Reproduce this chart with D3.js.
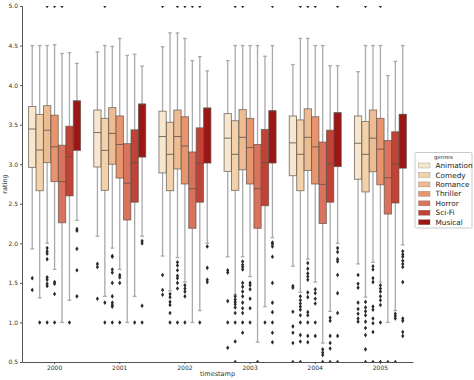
<!DOCTYPE html>
<html>
<head>
<meta charset="utf-8">
<script src="https://cdn.jsdelivr.net/npm/d3@7"></script>
<style>
  html, body { margin: 0; padding: 0; background: #fff; }
  svg { display: block; font-family: "DejaVu Sans", sans-serif; }
</style>
</head>
<body>
<svg id="chart" width="474" height="380"></svg>
<script>
// ---- data (rows: genres, columns: years) ----
const years = ["2000", "2001", "2002", "2003", "2004", "2005"];
const genres = ["Animation", "Comedy", "Romance", "Thriller", "Horror", "Sci-Fi", "Musical"];
const colors = ["#f7e7cf", "#f1d2aa", "#eebc93", "#e8946d", "#da735d", "#c04336", "#9d1616"];
const yTicks = [0.5, 1.0, 1.5, 2.0, 2.5, 3.0, 3.5, 4.0, 4.5, 5.0];

const q3 = [
  [3.73, 3.685, 3.67, 3.64, 3.61, 3.61],
  [3.63, 3.58, 3.53, 3.55, 3.56, 3.54],
  [3.74, 3.715, 3.685, 3.69, 3.70, 3.685],
  [3.62, 3.61, 3.60, 3.58, 3.60, 3.58],
  [3.24, 3.26, 3.155, 3.25, 3.28, 3.30],
  [3.48, 3.435, 3.46, 3.44, 3.43, 3.41],
  [3.80, 3.76, 3.71, 3.675, 3.65, 3.63]
];
const medians = [
  [3.445, 3.40, 3.35, 3.33, 3.27, 3.265],
  [3.18, 3.175, 3.125, 3.125, 3.125, 3.125],
  [3.43, 3.39, 3.35, 3.34, 3.34, 3.33],
  [3.22, 3.25, 3.23, 3.21, 3.22, 3.19],
  [2.78, 2.76, 2.69, 2.69, 2.745, 2.83],
  [3.095, 3.02, 3.01, 3.02, 3.005, 3.0],
  [3.80, 3.76, 3.71, 3.675, 3.65, 3.63]
];
const q1 = [
  [2.96, 2.965, 2.89, 2.91, 2.855, 2.81],
  [2.665, 2.67, 2.665, 2.67, 2.665, 2.65],
  [3.02, 3.0, 2.94, 2.93, 2.92, 2.905],
  [2.78, 2.825, 2.75, 2.75, 2.75, 2.74],
  [2.26, 2.295, 2.19, 2.19, 2.25, 2.37],
  [2.6, 2.52, 2.52, 2.475, 2.52, 2.51],
  [3.175, 3.09, 3.015, 3.015, 2.97, 2.95]
];
const whiskerHigh = [
  [4.5, 4.42, 4.485, 4.31, 4.26, 4.17],
  [4.5, 4.5, 4.66, 4.5, 4.59, 4.5],
  [4.5, 4.49, 4.66, 4.5, 4.59, 4.5],
  [4.51, 4.59, 4.59, 4.5, 4.5, 4.5],
  [4.40, 4.375, 4.31, 4.5, 4.5, 4.12],
  [4.41, 4.39, 4.36, 4.365, 4.245, 4.30],
  [4.275, 4.24, 4.18, 4.5, 4.245, 4.5]
];
const whiskerLow = [
  [1.93, 2.09, 1.84, 1.83, 1.71, 1.74],
  [1.31, 1.33, 1.40, 1.355, 1.38, 1.32],
  [2.0, 1.94, 1.82, 1.83, 1.80, 1.76],
  [1.67, 1.67, 1.51, 1.58, 1.51, 1.51],
  [1.0, 1.0, 1.0, 0.75, 0.74, 1.0],
  [1.28, 1.33, 1.15, 1.2, 1.14, 1.15],
  [2.29, 2.09, 2.0, 2.07, 2.0, 1.98]
];
const outliers = [
  [[1.56, 1.41], [1.74, 1.70, 1.30], [5.0, 1.60, 1.41, 1.35], [1.66, 1.63, 1.27, 1.0, 0.68],
   [1.46, 1.44, 1.135, 0.95, 0.87, 0.74, 0.5], [1.60, 1.49, 1.44, 1.25, 1.17, 1.11, 1.05, 1.01]],
  [[1.0], [5.0, 1.25, 1.0], [1.36, 1.32, 1.26, 1.22, 1.12, 1.0],
   [5.0, 1.33, 1.29, 1.26, 1.23, 1.19, 1.12, 1.0, 0.76, 0.5],
   [5.0, 1.33, 1.28, 1.24, 1.20, 1.16, 1.09, 1.0, 0.84, 0.76, 0.5],
   [5.0, 1.26, 1.19, 1.14, 1.09, 1.01, 0.93, 0.84, 0.66, 0.5]],
  [[5.0, 1.94, 1.90, 1.87, 1.80, 1.57, 1.54, 1.49, 1.46, 1.0],
   [1.84, 1.83, 1.67, 1.63, 1.5, 1.33, 1.25, 1.22, 1.20, 1.0],
   [5.0, 1.76, 1.72, 1.66, 1.59, 1.56, 1.50, 1.43, 1.0],
   [5.0, 1.77, 1.73, 1.70, 1.67, 1.5, 1.45, 1.39, 1.33, 1.25, 1.18, 1.12, 1.0, 0.87],
   [5.0, 1.75, 1.68, 1.62, 1.58, 1.54, 1.38, 1.32, 1.13, 1.09, 1.0, 0.83, 0.75],
   [1.71, 1.67, 1.56, 1.51, 1.20, 1.16, 1.05, 0.99, 0.88, 0.5]],
  [[5.0, 1.51, 1.49, 1.36, 1.0], [1.60, 1.57, 1.5, 1.0], [5.0, 1.47, 1.43, 1.39, 1.33, 1.0],
   [1.5, 1.47, 1.42, 1.30, 1.18, 1.0], [5.0, 1.42, 1.37, 1.30, 1.24, 1.0, 0.83],
   [5.0, 1.47, 1.43, 1.39, 1.33, 1.28, 1.22, 1.0, 0.5]],
  [[5.0], [], [5.0], [0.5], [0.66, 0.62, 0.59, 0.5], [0.5]],
  [[1.0], [1.0], [5.0, 1.0], [1.0], [1.06, 1.02, 0.83, 0.74, 0.67, 0.5], [1.11, 1.08, 1.05, 0.5]],
  [[2.18, 2.16, 1.93, 1.66, 1.33], [2.03, 2.0, 1.21, 1.0], [1.96, 1.69, 1.54, 1.51],
   [5.0, 2.01, 1.99, 1.96, 1.83, 1.50, 1.25, 1.13, 1.0, 0.87, 0.75],
   [5.0, 1.94, 1.89, 1.80, 1.77, 1.60, 1.37, 1.12, 0.83, 0.5],
   [1.90, 1.86, 1.83, 1.78, 1.74, 1.70, 1.51, 1.05, 1.02, 0.88, 0.83]]
];

// ---- layout ----
const svg = d3.select("#chart");
const mLeft = 22, mRight = 413, mTop = 6, mBottom = 362;

const x = d3.scaleBand().domain(years).range([mLeft, mRight]).paddingInner(0).paddingOuter(0);
const hueW = x.bandwidth() * 0.8;
const xHue = d3.scaleBand().domain(genres).range([-hueW / 2, hueW / 2]);
const y = d3.scaleLinear().domain([0.5, 5.0]).range([mBottom, mTop]);

const boxW = xHue.bandwidth() * 0.98;
const lineGray = "#a9a9a9";
const edge = "#5e5048";

svg.append("defs").append("clipPath").attr("id", "plotclip")
  .append("rect").attr("x", mLeft).attr("y", mTop).attr("width", mRight - mLeft).attr("height", mBottom - mTop);

const plot = svg.append("g").attr("clip-path", "url(#plotclip)");

const boxes = [];
genres.forEach((g, gi) => {
  years.forEach((yr, yi) => {
    boxes.push({
      g, gi, yr, yi,
      cx: x(yr) + x.bandwidth() / 2 + xHue(g) + xHue.bandwidth() / 2,
      q1: q1[gi][yi], med: medians[gi][yi], q3: q3[gi][yi],
      lo: whiskerLow[gi][yi], hi: whiskerHigh[gi][yi],
      out: outliers[gi][yi]
    });
  });
});

const bg = plot.selectAll("g.box").data(boxes).join("g").attr("class", "box");

// whiskers
bg.append("line")
  .attr("x1", d => d.cx).attr("x2", d => d.cx)
  .attr("y1", d => y(d.q3)).attr("y2", d => y(d.hi))
  .attr("stroke", lineGray).attr("stroke-width", 1.3);
bg.append("line")
  .attr("x1", d => d.cx).attr("x2", d => d.cx)
  .attr("y1", d => y(d.q1)).attr("y2", d => y(d.lo))
  .attr("stroke", lineGray).attr("stroke-width", 1.3);
// caps
bg.append("line")
  .attr("x1", d => d.cx - boxW / 4).attr("x2", d => d.cx + boxW / 4)
  .attr("y1", d => y(d.hi)).attr("y2", d => y(d.hi))
  .attr("stroke", lineGray).attr("stroke-width", 1.3);
bg.append("line")
  .attr("x1", d => d.cx - boxW / 4).attr("x2", d => d.cx + boxW / 4)
  .attr("y1", d => y(d.lo)).attr("y2", d => y(d.lo))
  .attr("stroke", lineGray).attr("stroke-width", 1.3);
// box
bg.append("rect")
  .attr("x", d => d.cx - boxW / 2).attr("width", boxW)
  .attr("y", d => y(d.q3)).attr("height", d => y(d.q1) - y(d.q3))
  .attr("fill", d => colors[d.gi])
  .attr("stroke", edge).attr("stroke-opacity", 0.75).attr("stroke-width", 0.9);
// median
bg.append("line")
  .attr("x1", d => d.cx - boxW / 2).attr("x2", d => d.cx + boxW / 2)
  .attr("y1", d => y(d.med)).attr("y2", d => y(d.med))
  .attr("stroke", edge).attr("stroke-opacity", 0.8).attr("stroke-width", 1);
// fliers (thin diamonds)
bg.selectAll("path.flier").data(d => d.out.map(v => ({ cx: d.cx, v }))).join("path")
  .attr("class", "flier")
  .attr("d", d => {
    const cx = d.cx, cy = y(d.v), w = 1.6, h = 2.3;
    return `M${cx},${cy - h}L${cx + w},${cy}L${cx},${cy + h}L${cx - w},${cy}Z`;
  })
  .attr("fill", "#2a2a2a");

// ---- axes ----
const axisColor = "#555";
const yAxis = svg.append("g").attr("transform", `translate(${mLeft},0)`)
  .call(d3.axisLeft(y).tickValues(yTicks).tickFormat(d3.format(".1f")).tickSize(2).tickPadding(2));
yAxis.select(".domain").attr("stroke", axisColor);
yAxis.selectAll(".tick line").attr("stroke", axisColor);
yAxis.selectAll("text").attr("font-size", 6).attr("fill", "#333").attr("font-family", "DejaVu Sans");

const xAxis = svg.append("g").attr("transform", `translate(0,${mBottom})`)
  .call(d3.axisBottom(x).tickSize(2).tickPadding(1.5).tickSizeOuter(0));
xAxis.select(".domain").attr("stroke", axisColor);
xAxis.selectAll(".tick line").attr("stroke", axisColor);
xAxis.selectAll("text").attr("font-size", 6).attr("fill", "#333").attr("font-family", "DejaVu Sans");

svg.append("text").attr("x", (mLeft + mRight) / 2).attr("y", 376)
  .attr("text-anchor", "middle").attr("font-size", 6.5).attr("fill", "#333").text("timestamp");
svg.append("text").attr("transform", `translate(7,${(mTop + mBottom) / 2}) rotate(-90)`)
  .attr("text-anchor", "middle").attr("font-size", 6.5).attr("fill", "#333").text("rating");

// ---- legend ----
const lg = svg.append("g");
lg.append("rect").attr("x", 415).attr("y", 152.5).attr("width", 57).attr("height", 75.5)
  .attr("fill", "#fff").attr("stroke", "#bbb").attr("stroke-width", 0.8).attr("rx", 1.5);
lg.append("text").attr("x", 443.5).attr("y", 159).attr("text-anchor", "middle")
  .attr("font-size", 5.5).attr("fill", "#333").text("genres");
const items = lg.selectAll("g.item").data(genres).join("g").attr("class", "item")
  .attr("transform", (d, i) => `translate(0,${165.5 + i * 9.45})`);
items.append("rect").attr("x", 418.5).attr("y", -2.5).attr("width", 11.5).attr("height", 5)
  .attr("fill", (d, i) => colors[i]).attr("stroke", edge).attr("stroke-opacity", 0.5).attr("stroke-width", 0.5);
items.append("text").attr("x", 435.5).attr("y", 2.6).attr("font-size", 7.3).attr("fill", "#222").text(d => d);
</script>
</body>
</html>
